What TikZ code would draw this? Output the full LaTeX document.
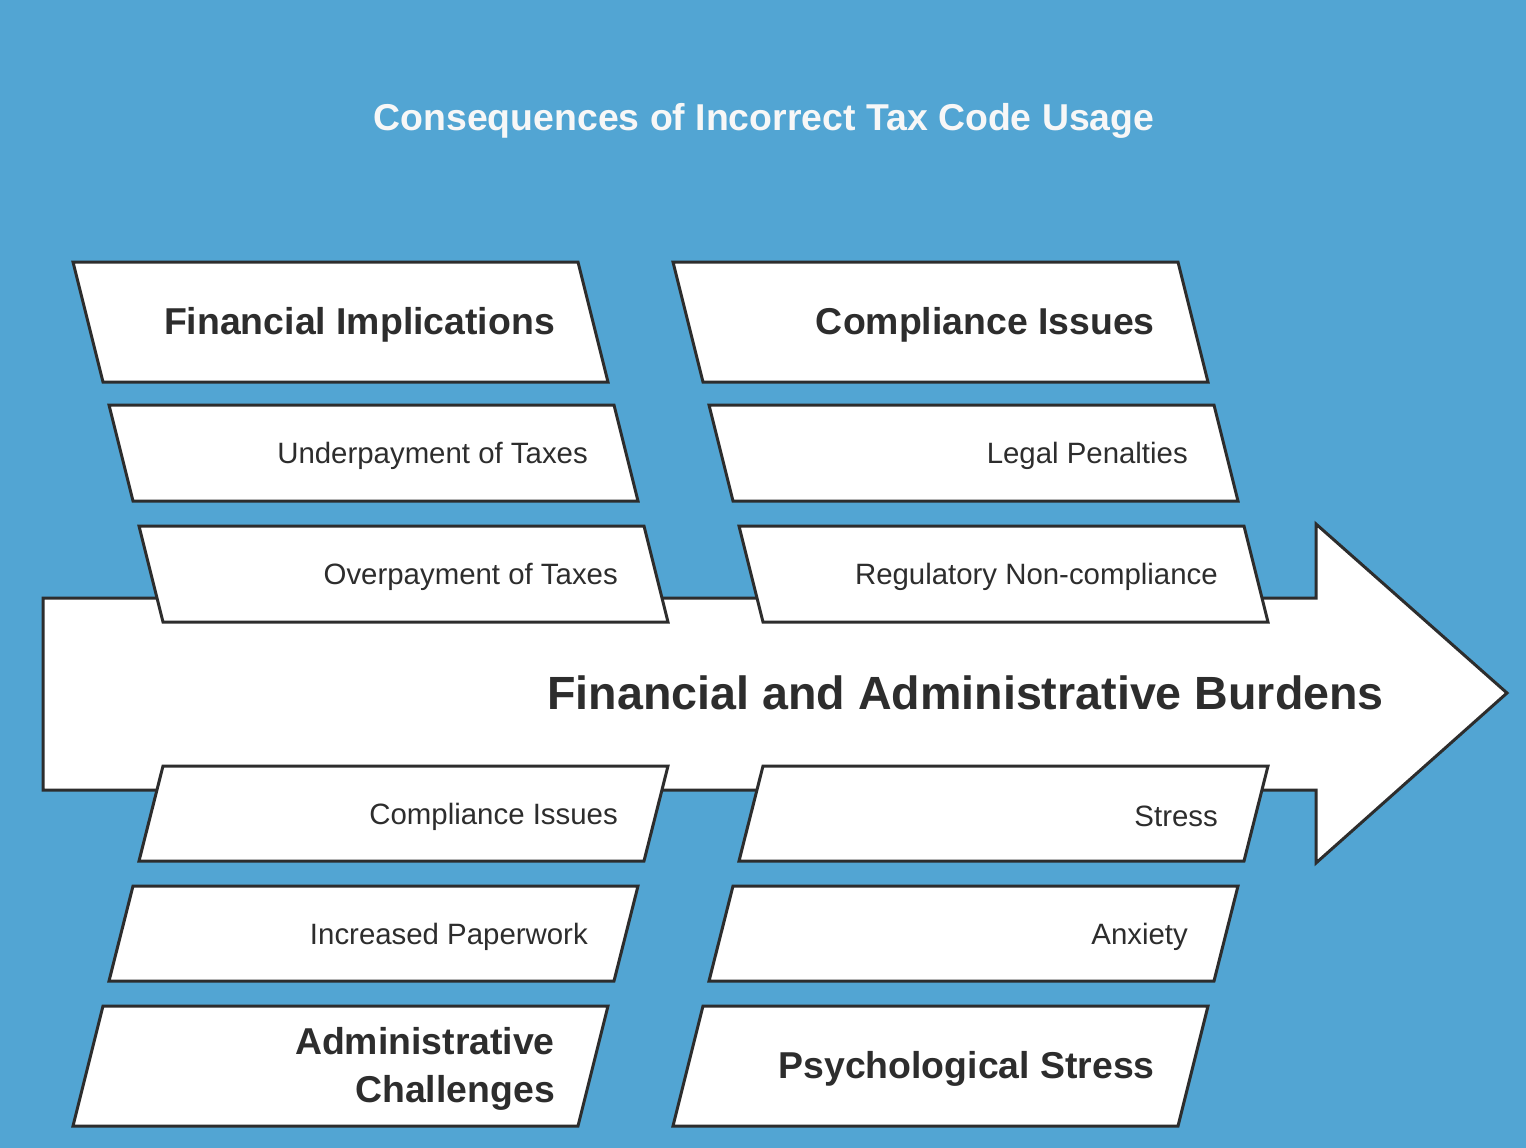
\documentclass[tikz,border=0pt]{standalone}
\usepackage{fontspec}
\setmainfont{Liberation Sans}
\definecolor{bg}{HTML}{52A5D3}
\definecolor{ink}{HTML}{2D2D2D}
\definecolor{titlecol}{HTML}{F7F7F7}
\tikzset{
  boxline/.style={draw=ink, line width=3pt, fill=white, line join=miter},
  subtxt/.style={text=ink, font=\fontsize{29.4}{35}\selectfont, inner sep=0pt, yshift=-3pt},
  headtxt/.style={text=ink, font=\fontsize{37.4}{48}\selectfont\bfseries, inner sep=0pt, align=right, yshift=-3pt},
  maintxt/.style={text=ink, font=\fontsize{46.6}{56}\selectfont\bfseries, inner sep=0pt},
  titletxt/.style={text=titlecol, font=\fontsize{37.4}{45}\selectfont\bfseries, inner sep=0pt}
}
\newcommand\pgram[7]{%
  \draw[boxline] (#2,#3) -- ++(505,0) -- ++(#5,#4) -- ++(-505,0) -- cycle;
  \node[#6, anchor=east] (#1) at ({#2+505+#5/2-38},{#3+#4/2}) {#7};
}
\begin{document}
\begin{tikzpicture}[x=1pt,y=-1pt]
\useasboundingbox (0,0) rectangle (1526,1148);
\fill[bg] (0,0) rectangle (1526,1148);
\node[titletxt] (title) at (764,121) {Consequences of Incorrect Tax Code Usage};
% main arrow
\draw[boxline] (43,598) -- (1316,598) -- (1316,524) -- (1507,693) -- (1316,863) -- (1316,790) -- (43,790) -- cycle;
\node[maintxt, anchor=east] (main) at (1384,693) {Financial and Administrative Burdens};
% upper boxes
\pgram{fin}{73}{262}{120}{30}{headtxt}{Financial Implications}
\pgram{under}{109}{405}{96}{24}{subtxt}{Underpayment of Taxes}
\pgram{over}{139}{526}{96}{24}{subtxt}{Overpayment of Taxes}
\pgram{comp}{673}{262}{120}{30}{headtxt}{Compliance Issues}
\pgram{legal}{709}{405}{96}{24}{subtxt}{Legal Penalties}
\pgram{reg}{739}{526}{96}{24}{subtxt}{Regulatory Non-compliance}
% lower boxes
\pgram{compl}{163}{766}{95}{-24}{subtxt}{Compliance Issues}
\pgram{paper}{133}{886}{95}{-24}{subtxt}{Increased Paperwork}
\pgram{admin}{103}{1006}{120}{-30}{headtxt}{Administrative\\Challenges}
\pgram{stress}{763}{766}{95}{-24}{subtxt}{Stress}
\pgram{anx}{733}{886}{95}{-24}{subtxt}{Anxiety}
\pgram{psych}{703}{1006}{120}{-30}{headtxt}{Psychological Stress}
\end{tikzpicture}
\end{document}
